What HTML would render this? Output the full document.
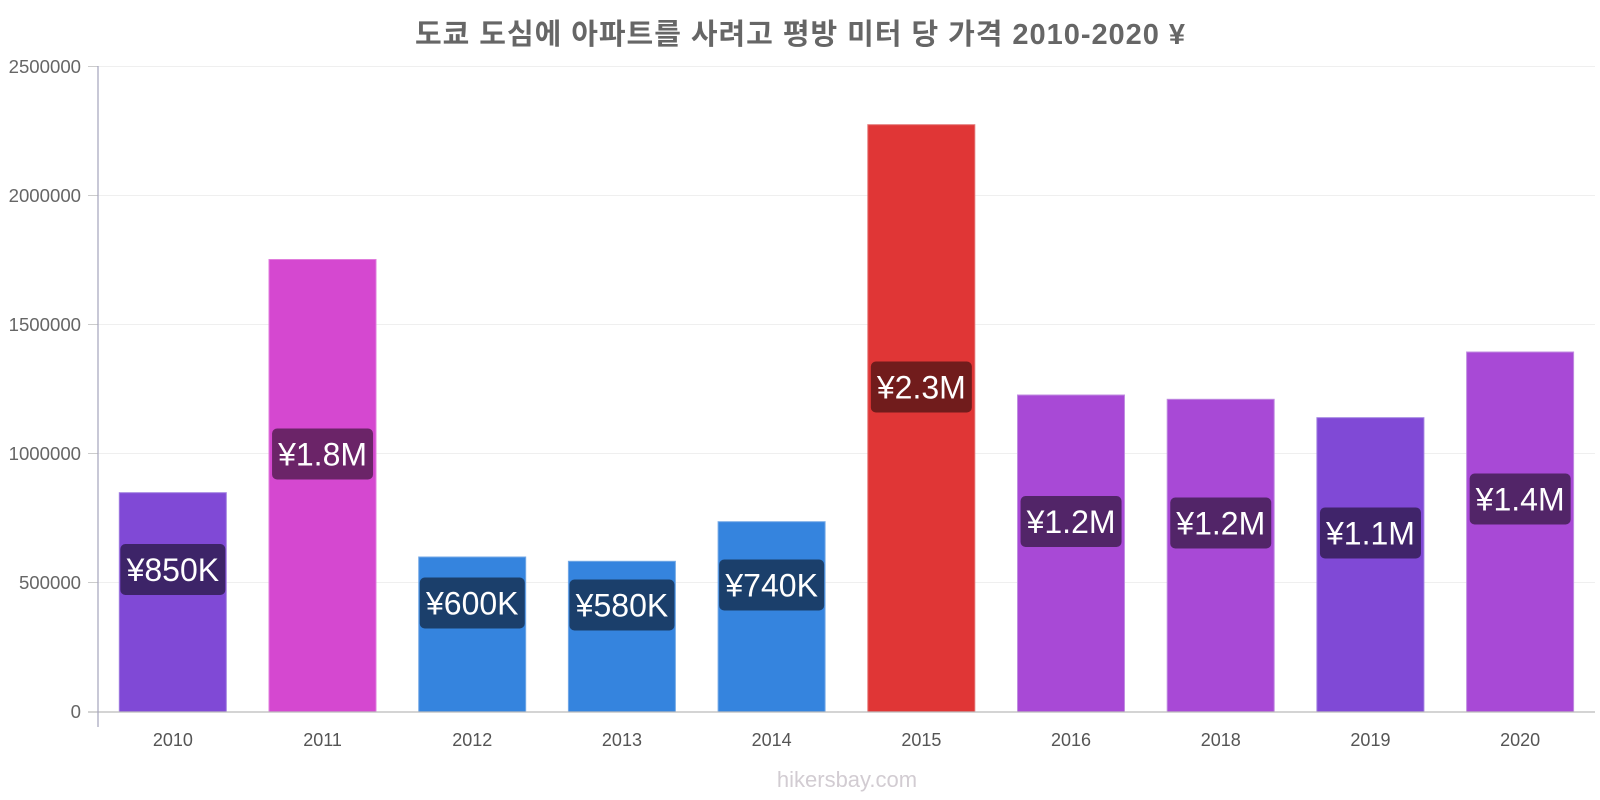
<!DOCTYPE html>
<html>
<head>
<meta charset="utf-8">
<style>
  html, body { margin: 0; padding: 0; background: #ffffff; }
  svg { display: block; }
  .yt { font-family: "Liberation Sans", sans-serif; font-size: 18.6px; fill: #666666; }
  .xt { font-family: "Liberation Sans", sans-serif; font-size: 18px; fill: #555555; }
  .lbl { font-family: "Liberation Sans", sans-serif; font-size: 32px; fill: #ffffff; }
</style>
</head>
<body>
<svg width="1600" height="800" viewBox="0 0 1600 800" xmlns="http://www.w3.org/2000/svg">
  <rect x="0" y="0" width="1600" height="800" fill="#ffffff"/>

  <!-- title -->
  <text x="800" y="44" text-anchor="middle" textLength="770" lengthAdjust="spacing"
        style="font-family: 'Liberation Sans', 'Noto Sans CJK KR', sans-serif; font-size: 29px; font-weight: bold; fill: #666666;">도쿄 도심에 아파트를 사려고 평방 미터 당 가격 2010-2020 ¥</text>

  <!-- gridlines -->
  <g stroke="#efefef" stroke-width="1">
    <line x1="98" y1="66.5" x2="1595" y2="66.5"/>
    <line x1="98" y1="195.5" x2="1595" y2="195.5"/>
    <line x1="98" y1="324.5" x2="1595" y2="324.5"/>
    <line x1="98" y1="453.5" x2="1595" y2="453.5"/>
    <line x1="98" y1="582.5" x2="1595" y2="582.5"/>
  </g>

  <!-- y ticks -->
  <g stroke="#cccccc" stroke-width="1">
    <line x1="88" y1="66.5" x2="98" y2="66.5"/>
    <line x1="88" y1="195.5" x2="98" y2="195.5"/>
    <line x1="88" y1="324.5" x2="98" y2="324.5"/>
    <line x1="88" y1="453.5" x2="98" y2="453.5"/>
    <line x1="88" y1="582.5" x2="98" y2="582.5"/>
  </g>

  <!-- y tick labels -->
  <g class="yt" text-anchor="end">
    <text x="81" y="73">2500000</text>
    <text x="81" y="202">2000000</text>
    <text x="81" y="331">1500000</text>
    <text x="81" y="460">1000000</text>
    <text x="81" y="589">500000</text>
    <text x="81" y="718">0</text>
  </g>

  <!-- bars -->
  <g stroke-width="1">
    <rect x="119.3" y="492.7" width="107" height="219.3" fill="#8049d6" stroke="#a07ee0"/>
    <rect x="269" y="259.5" width="107" height="452.5" fill="#d548d0" stroke="#e07ddc"/>
    <rect x="418.7" y="557" width="107" height="155" fill="#3584de" stroke="#75a9e6"/>
    <rect x="568.4" y="561.3" width="107" height="150.7" fill="#3584de" stroke="#75a9e6"/>
    <rect x="718.1" y="521.7" width="107" height="190.3" fill="#3584de" stroke="#75a9e6"/>
    <rect x="867.8" y="124.7" width="107" height="587.3" fill="#e03636" stroke="#e37474"/>
    <rect x="1017.5" y="395" width="107" height="317" fill="#a849d6" stroke="#c08de0"/>
    <rect x="1167.2" y="399.3" width="107" height="312.7" fill="#a849d6" stroke="#c08de0"/>
    <rect x="1316.9" y="417.7" width="107" height="294.3" fill="#8049d6" stroke="#a07ee0"/>
    <rect x="1466.6" y="352" width="107" height="360" fill="#a849d6" stroke="#c08de0"/>
  </g>

  <!-- axis lines -->
  <line x1="88" y1="712" x2="1595" y2="712" stroke="#bbbbbb" stroke-width="1.2"/>
  <line x1="98" y1="66" x2="98" y2="727" stroke="#a4a4bc" stroke-width="1.2"/>

  <!-- value labels -->
  <g>
    <rect x="120.35" y="544" width="105" height="51" rx="5" fill="#3d2468"/>
    <text class="lbl" x="172.85" y="581" text-anchor="middle">¥850K</text>

    <rect x="272.05" y="428.5" width="101" height="51" rx="5" fill="#6b2468"/>
    <text class="lbl" x="322.55" y="465.5" text-anchor="middle">¥1.8M</text>

    <rect x="419.75" y="577.5" width="105" height="51" rx="5" fill="#1b3f6b"/>
    <text class="lbl" x="472.25" y="614.5" text-anchor="middle">¥600K</text>

    <rect x="569.45" y="579.5" width="105" height="51" rx="5" fill="#1b3f6b"/>
    <text class="lbl" x="621.95" y="616.5" text-anchor="middle">¥580K</text>

    <rect x="719.15" y="559.5" width="105" height="51" rx="5" fill="#1b3f6b"/>
    <text class="lbl" x="771.65" y="596.5" text-anchor="middle">¥740K</text>

    <rect x="870.85" y="361.5" width="101" height="51" rx="5" fill="#711c1c"/>
    <text class="lbl" x="921.35" y="398.5" text-anchor="middle">¥2.3M</text>

    <rect x="1020.55" y="496" width="101" height="51" rx="5" fill="#522568"/>
    <text class="lbl" x="1071.05" y="533" text-anchor="middle">¥1.2M</text>

    <rect x="1170.25" y="497.5" width="101" height="51" rx="5" fill="#522568"/>
    <text class="lbl" x="1220.75" y="534.5" text-anchor="middle">¥1.2M</text>

    <rect x="1319.95" y="507.5" width="101" height="51" rx="5" fill="#40246a"/>
    <text class="lbl" x="1370.45" y="544.5" text-anchor="middle">¥1.1M</text>

    <rect x="1469.65" y="473.5" width="101" height="51" rx="5" fill="#522568"/>
    <text class="lbl" x="1520.15" y="510.5" text-anchor="middle">¥1.4M</text>
  </g>

  <!-- x tick labels -->
  <g class="xt" text-anchor="middle">
    <text x="172.85" y="746">2010</text>
    <text x="322.55" y="746">2011</text>
    <text x="472.25" y="746">2012</text>
    <text x="621.95" y="746">2013</text>
    <text x="771.65" y="746">2014</text>
    <text x="921.35" y="746">2015</text>
    <text x="1071.05" y="746">2016</text>
    <text x="1220.75" y="746">2018</text>
    <text x="1370.45" y="746">2019</text>
    <text x="1520.15" y="746">2020</text>
  </g>

  <!-- watermark -->
  <text x="847" y="787" text-anchor="middle"
        style="font-family: 'Liberation Sans', sans-serif; font-size: 22px; fill: #d2ccd2;">hikersbay.com</text>
</svg>
</body>
</html>
